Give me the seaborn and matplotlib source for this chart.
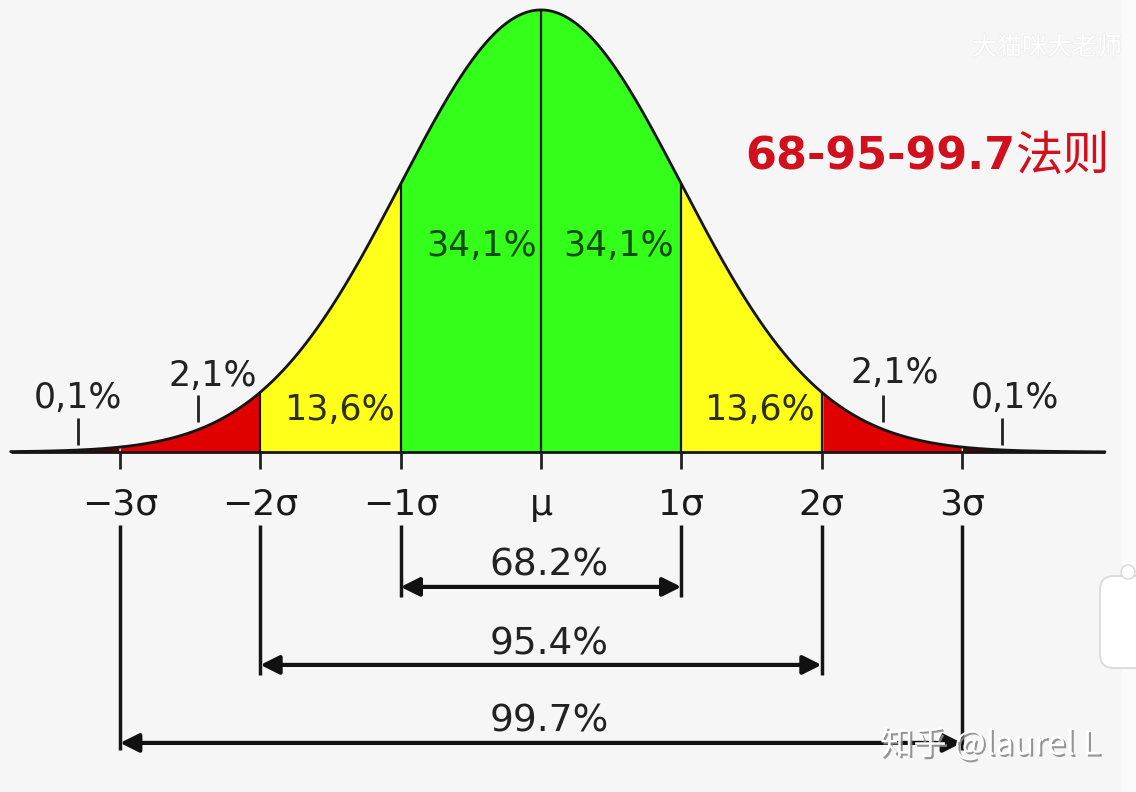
import matplotlib
matplotlib.use("Agg")
import matplotlib.pyplot as plt
import matplotlib.patheffects as pe
from matplotlib.patches import FancyBboxPatch, Circle, Rectangle
from matplotlib.transforms import IdentityTransform
import seaborn as sns
import numpy as np

# data
sigma_ticks = [-3, -2, -1, 0, 1, 2, 3]
sigma_labels = ["−3σ", "−2σ", "−1σ", "μ", "1σ", "2σ", "3σ"]
band_edges = [-2, -1, 0, 1, 2]
region_labels = ["0,1%", "2,1%", "13,6%", "34,1%", "34,1%", "13,6%", "2,1%", "0,1%"]
span_k = [1, 2, 3]
span_labels = ["68.2%", "95.4%", "99.7%"]
title = "68-95-99.7"
title_cjk = "法则"

sns.set_theme(style="white")
plt.rcParams['font.family'] = ['DejaVu Sans', 'Noto Sans CJK SC']

bg = '#f6f6f6'
fig = plt.figure(figsize=(11.36, 7.92), dpi=100, facecolor=bg)
ax = fig.add_axes([0, 0, 1, 1])
ax.set_facecolor(bg)
ax.set_xlim(-3.856, 4.241)
ax.set_ylim(-0.3069, 0.4079)
ax.axis('off')

xs = np.linspace(-3.78, 4.02, 800)
pdf = np.exp(-xs ** 2 / 2) / np.sqrt(2 * np.pi)

def norm(x):
    return np.exp(-np.asarray(x) ** 2 / 2) / np.sqrt(2 * np.pi)

# filled regions
fills = [(-3.78, -3, '#5a0000'), (-3, -2, '#e00000'), (-2, -1, '#ffff1a'),
         (-1, 1, '#33ff1a'), (1, 2, '#ffff1a'), (2, 3, '#e00000'), (3, 4.02, '#5a0000')]
for a, b, c in fills:
    m = (xs >= a) & (xs <= b)
    ax.fill_between(xs[m], 0, pdf[m], color=c, lw=0)

# curve and baseline
sns.lineplot(x=xs, y=pdf, ax=ax, color='#151515', lw=2)
ax.hlines(0, -3.78, 4.02, color='#151515', lw=2)

# inner separators
ax.vlines(band_edges, 0, norm(band_edges), color='#151515', lw=1.6)
# ticks below baseline
ax.vlines(sigma_ticks, -0.0153, 0, color='#222222', lw=2)

for x, lab in zip(sigma_ticks, sigma_labels):
    ax.text(x, -0.0569, lab, ha='center', va='baseline', fontsize=26, color='#1a1a1a')

# region labels
reg_pos = [(-3.30, 0.049), (-2.339, 0.069), (-1.440, 0.038), (-0.420, 0.186),
           (0.556, 0.186), (1.560, 0.038), (2.523, 0.071), (3.378, 0.049)]
reg_col = ['#222222', '#222222', '#2e2e10', '#0d4a0d', '#0d4a0d', '#2e2e10', '#222222', '#222222']
for (x, y), lab, c in zip(reg_pos, region_labels, reg_col):
    ax.text(x, y, lab, ha='center', va='center', fontsize=25, color=c)

# small pointer ticks for tail labels
ax.vlines([-2.445, 2.438], 0.0271, 0.0514, color='#222222', lw=2)
ax.vlines([-3.30, 3.286], 0.0063, 0.0307, color='#222222', lw=2)

# span brackets
bottoms = [-0.1309, -0.2013, -0.269]
arrow_y = [-0.1218, -0.1922, -0.2626]
text_y = [-0.1119, -0.1832, -0.2527]
for k, lab, yb, ya, yt in zip(span_k, span_labels, bottoms, arrow_y, text_y):
    ax.vlines([-k, k], yb, -0.0659, color='#151515', lw=2.5)
    ax.annotate('', xy=(k, ya), xytext=(-k, ya),
                arrowprops=dict(arrowstyle='<|-|>', lw=3, color='#111111',
                                mutation_scale=28, shrinkA=0, shrinkB=0))
    ax.text(0.06, yt, lab, ha='center', va='baseline', fontsize=27, color='#222222')

# title
fig.text(745 / 1136, 1 - 157 / 792, title, ha='left', va='center', fontsize=32,
         fontweight='bold', color='#d0101c', family='DejaVu Sans')
fig.text(1015 / 1136, 1 - 157 / 792, title_cjk, ha='left', va='center', fontsize=34,
         color='#d0101c', family='Noto Sans CJK SC')

# lighter strip at the right edge of the screenshot
fig.patches.append(Rectangle((1122, 0), 20, 792, transform=IdentityTransform(),
                             facecolor='#fbfbfb', edgecolor='none', zorder=1))

# watermarks
fig.text(972 / 1136, 1 - 48 / 792, "大猫咪大老师", ha='left', va='center', fontsize=18,
         color='white', family='Noto Sans CJK SC',
         path_effects=[pe.withStroke(linewidth=1, foreground='#ececec')])
fig.text(880 / 1136, 1 - 745 / 792, "知乎 @laurel L", ha='left', va='center', fontsize=24,
         color='white', family=['Noto Sans CJK SC', 'DejaVu Sans'],
         path_effects=[pe.SimplePatchShadow(offset=(1.5, -1.5), shadow_rgbFace='#8a8a8a', alpha=0.9),
                       pe.Normal()])

# overlay widget on the right edge
box = FancyBboxPatch((1100, 792 - 668), 60, 92, boxstyle='round,pad=0,rounding_size=14',
                     transform=IdentityTransform(), facecolor='white', edgecolor='#dddddd',
                     lw=1.5, zorder=6)
fig.patches.append(box)
fig.patches.append(Circle((1128, 792 - 572), 7, transform=IdentityTransform(),
                          facecolor='white', edgecolor='#dddddd', lw=1.2, zorder=6))

fig.savefig('out.png', dpi=100, facecolor=bg)
